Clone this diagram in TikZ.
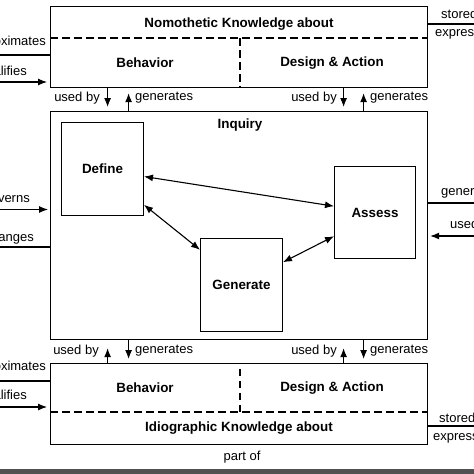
\documentclass[tikz,border=0pt]{standalone}
\usepackage{fontspec}
\setmainfont{Liberation Sans}
\usetikzlibrary{arrows.meta,calc}
\begin{document}
\begin{tikzpicture}[x=1pt,y=-1pt,
  font=\fontsize{13}{15}\selectfont,
  bigbox/.style={draw=black,line width=1.2pt,minimum width=377pt,inner sep=0pt,anchor=north west},
  stepbox/.style={draw=black,line width=1pt,minimum width=82pt,minimum height=93pt,inner sep=0pt,anchor=north west,font=\fontsize{13.4}{15}\selectfont\bfseries},
  lbl/.style={inner sep=0pt},
  blbl/.style={inner sep=0pt,font=\fontsize{13.4}{15}\selectfont\bfseries},
  dsh/.style={line width=1.1pt,dash pattern=on 7.5pt off 4.5pt},
  arr/.style={line width=1.1pt,-{Latex[length=9pt,width=7pt]}},
  dbl/.style={line width=1.1pt,{Latex[length=9pt,width=7pt]}-{Latex[length=9pt,width=7pt]}},
  ln/.style={line width=1.1pt}]
\useasboundingbox (0,0) rectangle (474,474);
\clip (0,0) rectangle (474,474);
\fill[white] (0,0) rectangle (474,474);
% bottom band
\fill[black!68] (0,469) rectangle (474,474);

% main boxes
\node[bigbox,minimum height=81pt] (top) at (50,6) {};
\node[bigbox,minimum height=228pt] (inq) at (50,111) {};
\node[bigbox,minimum height=81pt] (bot) at (50,363) {};

% dashed separators
\coordinate (td) at (50,38);
\coordinate (tv) at (240,38);
\draw[dsh] (td) -- (top.east |- td);
\draw[dsh] (tv) -- (tv |- top.south);
\coordinate (bd) at (50,412);
\coordinate (bv) at (240,412);
\draw[dsh] (bd) -- (bot.east |- bd);
\draw[dsh] (bv) -- (bv |- bot.north);

% box texts
\node[blbl] (nomo) at (239,24) {Nomothetic Knowledge about};
\node[blbl] (tbeh) at (145,63) {Behavior};
\node[blbl] (tdes) at (332,63) {Design \& Action};
\node[blbl] (inql) at (240,125) {Inquiry};
\node[blbl] (bbeh) at (145,388) {Behavior};
\node[blbl] (bdes) at (332,388) {Design \& Action};
\node[blbl] (idio) at (239,428) {Idiographic Knowledge about};
\node[lbl] (part) at (242,457) {part of};

% inquiry steps
\node[stepbox] (def) at (61,122) {Define};
\node[stepbox] (gen) at (200,238) {Generate};
\node[stepbox,minimum width=81pt,minimum height=92pt] (ass) at (334,166) {Assess};

\draw[dbl] ([yshift=-7.5pt]def.east) -- ([yshift=6.3pt]ass.west);
\draw[dbl] ([yshift=-35.8pt]def.east) -- ([yshift=35.2pt]gen.west);
\draw[dbl] ([yshift=22.8pt]gen.east) -- ([yshift=-23.7pt]ass.west);

% vertical arrows top <-> inquiry
\draw[arr] ([xshift=-131.5pt]top.south) -- ([xshift=-131.5pt,yshift=4pt]inq.north);
\draw[arr] ([xshift=-110.5pt]inq.north) -- ([xshift=-110.5pt,yshift=-5pt]top.south);
\draw[arr] ([xshift=104.5pt]top.south) -- ([xshift=104.5pt,yshift=4pt]inq.north);
\draw[arr] ([xshift=124.5pt]inq.north) -- ([xshift=124.5pt,yshift=-5pt]top.south);
\node[lbl,anchor=east] (ub1) at (100,98) {used by};
\node[lbl,anchor=west] (ge1) at (135,98) {generates};
\node[lbl,anchor=east] (ub2) at (337,98) {used by};
\node[lbl,anchor=west] (ge2) at (370,98) {generates};

% vertical arrows inquiry <-> bottom
\draw[arr] ([xshift=-131.5pt]bot.north) -- ([xshift=-131.5pt,yshift=-8pt]inq.south);
\draw[arr] ([xshift=-110.5pt]inq.south) -- ([xshift=-110.5pt,yshift=4pt]bot.north);
\draw[arr] ([xshift=104.5pt]bot.north) -- ([xshift=104.5pt,yshift=-8pt]inq.south);
\draw[arr] ([xshift=124.5pt]inq.south) -- ([xshift=124.5pt,yshift=4pt]bot.north);
\node[lbl,anchor=east] (ub3) at (99,351) {used by};
\node[lbl,anchor=west] (ge3) at (135,351) {generates};
\node[lbl,anchor=east] (ub4) at (337,351) {used by};
\node[lbl,anchor=west] (ge4) at (370,351) {generates};

% left side, top box
\coordinate (l1) at (0,55);
\coordinate (l2) at (0,82);
\draw[ln] (l1) -- (top.west |- l1);
\draw[arr] (l2) -- ([xshift=-3pt]top.west |- l2);
\node[lbl,anchor=east] (ap1) at (46,42) {approximates};
\node[lbl,anchor=east] (qu1) at (27,72) {qualifies};

% left side, inquiry
\coordinate (l3) at (0,209.5);
\coordinate (l4) at (0,247);
\draw[arr] (l3) -- ([xshift=-2pt]inq.west |- l3);
\draw[ln] (l4) -- (inq.west |- l4);
\node[lbl,anchor=east] (gov) at (30,200.5) {governs};
\node[lbl,anchor=east] (cha) at (34,238) {changes};

% left side, bottom box
\coordinate (l5) at (0,381);
\coordinate (l6) at (0,407);
\draw[ln] (l5) -- (bot.west |- l5);
\draw[arr] (l6) -- ([xshift=-3pt]bot.west |- l6);
\node[lbl,anchor=east] (ap2) at (46,367) {approximates};
\node[lbl,anchor=east] (qu2) at (27,396) {qualifies};

% right side, top box
\coordinate (r1) at (474,24);
\draw[ln] (top.east |- r1) -- (r1);
\node[lbl,anchor=west] (st1) at (441,14) {stored in};
\node[lbl,anchor=west] (ex1) at (435,33) {expressed in};

% right side, inquiry
\coordinate (r2) at (474,203);
\coordinate (r3) at (474,236);
\draw[ln] (inq.east |- r2) -- (r2);
\draw[arr] (r3) -- ([xshift=2pt]inq.east |- r3);
\node[lbl,anchor=west] (gr) at (441,193) {generates};
\node[lbl,anchor=west] (ur) at (450,225) {used by};

% right side, bottom box
\coordinate (r4) at (474,426);
\draw[ln] (bot.east |- r4) -- (r4);
\node[lbl,anchor=west] (st2) at (439,418) {stored in};
\node[lbl,anchor=west] (ex2) at (433,437.5) {expressed in};
\end{tikzpicture}
\end{document}
